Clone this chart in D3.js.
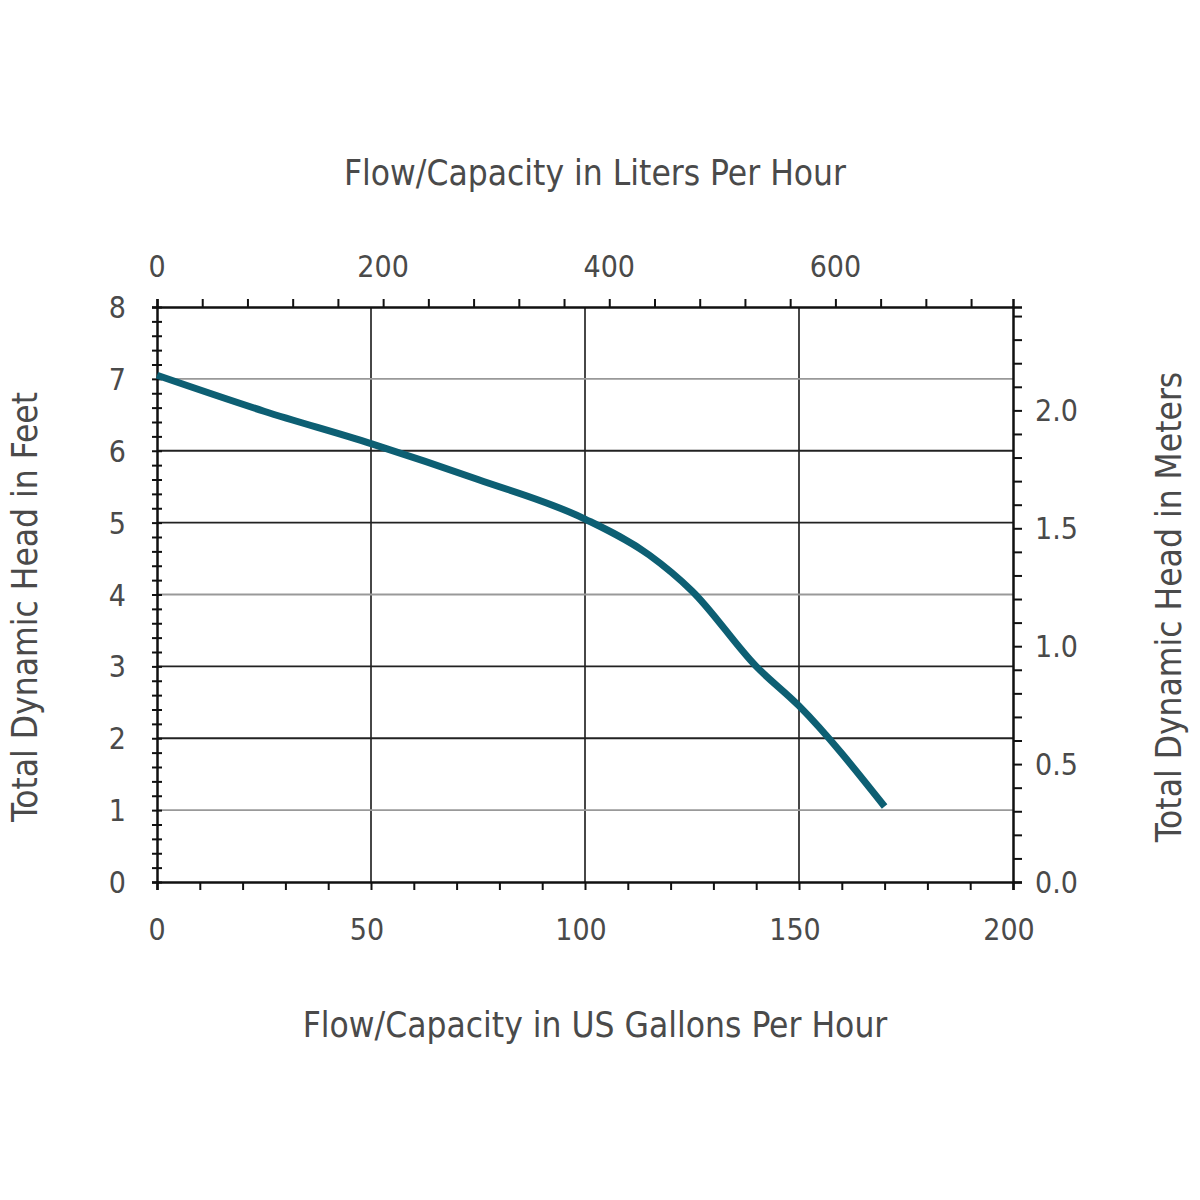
<!DOCTYPE html>
<html><head><meta charset="utf-8">
<script src="https://cdn.jsdelivr.net/npm/d3@7"></script>
<style>body{margin:0;background:#fff}text{font-family:"Liberation Sans Narrow","DejaVu Sans Condensed",sans-serif;fill:#4a4a4a}</style>
</head><body><svg id="c" width="1200" height="1200"></svg>
<script>
const flowGph = [0, 25, 50, 75, 100, 115, 125, 140, 150, 170];
const headFt  = [7.05, 6.55, 6.1, 5.6, 5.05, 4.55, 4.05, 3.0, 2.45, 1.05];
const gphTicks = [0, 50, 100, 150, 200];
const lphTicks = [0, 200, 400, 600];
const ftTicks = [0,1,2,3,4,5,6,7,8];
const mTicks = [0, 0.5, 1.0, 1.5, 2.0];
const grayLines = [1,4,7];

const svg = d3.select("#c");
const L=157,R=1013,T=307,B=882;
const x = d3.scaleLinear().domain([0,200]).range([L,R]);
const y = d3.scaleLinear().domain([0,8]).range([B,T]);
const xl = d3.scaleLinear().domain([0,200*3.78541]).range([L,R]);
const ym = d3.scaleLinear().domain([0,8/3.28084]).range([B,T]);

svg.append("g").selectAll("line").data([50,100,150]).join("line")
 .attr("x1",d=>x(d)).attr("x2",d=>x(d)).attr("y1",T).attr("y2",B).attr("stroke","#333").attr("stroke-width",1.8);
svg.append("g").selectAll("line").data([1,2,3,4,5,6,7]).join("line")
 .attr("x1",L).attr("x2",R).attr("y1",d=>y(d)).attr("y2",d=>y(d))
 .attr("stroke",d=>grayLines.includes(d)?"#999":"#222").attr("stroke-width",1.8);

function styleAxis(g){g.select(".domain").attr("stroke","#111").attr("stroke-width",2.5);
 g.selectAll(".tick line").attr("stroke","#111").attr("stroke-width",2);}

svg.append("g").attr("transform",`translate(0,${B})`).call(d3.axisBottom(x).tickValues(d3.range(0,201,10)).tickSize(8).tickFormat("")).call(styleAxis);
svg.append("g").attr("transform",`translate(0,${T})`).call(d3.axisTop(xl).tickValues(d3.range(0,757,40)).tickSize(8).tickFormat("")).call(styleAxis);
svg.append("g").attr("transform",`translate(${L},0)`).call(d3.axisLeft(y).tickValues(d3.range(0,8.01,0.2)).tickSize(5).tickFormat("")).call(styleAxis)
 .selectAll(".tick line").attr("x2",5).attr("x1",-5);
svg.append("g").attr("transform",`translate(${R},0)`).call(d3.axisRight(ym).tickValues(d3.range(0,2.44,0.1)).tickSize(9).tickFormat("")).call(styleAxis);

const lab = (data, fx, fy, fmt, anchor) => svg.append("g").selectAll("text").data(data).join("text")
 .attr("x",fx).attr("y",fy).attr("text-anchor",anchor).attr("font-size",30).text(fmt);
lab(gphTicks, d=>x(d)-(d===0?0:4), 940, d=>d, "middle");
lab(lphTicks, d=>xl(d), 277, d=>d, "middle");
lab(ftTicks, 126, d=>y(d)+11, d=>d, "end");
lab(mTicks, 1035, d=>ym(d)+11, d=>d.toFixed(1), "start");

svg.append("path").datum(flowGph.map((f,i)=>[f,headFt[i]]))
 .attr("d",d3.line().curve(d3.curveMonotoneX).x(d=>x(d[0])).y(d=>y(d[1])))
 .attr("fill","none").attr("stroke","#0d5f73").attr("stroke-width",7);

svg.append("text").attr("x",595).attr("y",185).attr("text-anchor","middle").attr("font-size",35).text("Flow/Capacity in Liters Per Hour");
svg.append("text").attr("x",595).attr("y",1037).attr("text-anchor","middle").attr("font-size",35).text("Flow/Capacity in US Gallons Per Hour");
svg.append("text").attr("transform","translate(37,607) rotate(-90)").attr("text-anchor","middle").attr("font-size",35).text("Total Dynamic Head in Feet");
svg.append("text").attr("transform","translate(1181,607) rotate(-90)").attr("text-anchor","middle").attr("font-size",35).text("Total Dynamic Head in Meters");
</script></body></html>
